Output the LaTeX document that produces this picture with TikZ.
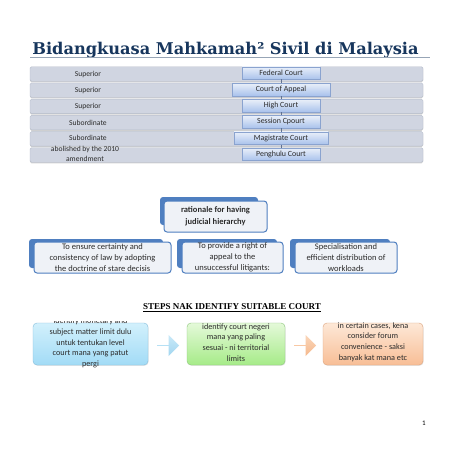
\documentclass[tikz,border=0pt]{standalone}
\usepackage{fontspec}
\setmainfont{Carlito}
\newfontfamily\titlefont{DejaVu Serif}
\newfontfamily\stepsfont{Liberation Serif}
\usetikzlibrary{shapes.arrows,backgrounds,shadows}
\definecolor{navy}{HTML}{17365D}
\definecolor{rowfill}{HTML}{D0D5E1}
\definecolor{rowline}{HTML}{B5BCCA}
\definecolor{courttop}{HTML}{E9EFF9}
\definecolor{courtbot}{HTML}{A9C2EC}
\definecolor{courtline}{HTML}{8AA3CF}
\definecolor{hblue}{HTML}{4F7FC0}
\definecolor{hfront}{HTML}{EFF2F7}
\definecolor{txt}{HTML}{2B2B2B}
\definecolor{s1top}{HTML}{D2F0FC}
\definecolor{s1bot}{HTML}{A2DBF6}
\definecolor{s1line}{HTML}{86BEDD}
\definecolor{s2top}{HTML}{E4F9D9}
\definecolor{s2bot}{HTML}{A6EB88}
\definecolor{s2line}{HTML}{8EC67E}
\definecolor{s3top}{HTML}{FDE8D7}
\definecolor{s3bot}{HTML}{F8BE96}
\definecolor{s3line}{HTML}{DDA47E}
\definecolor{a1top}{HTML}{C9E9F8}
\definecolor{a1bot}{HTML}{A2D6F0}
\definecolor{a2top}{HTML}{FAD6BA}
\definecolor{a2bot}{HTML}{F5B88C}
\tikzset{
  rowbox/.style={draw=rowline, fill=rowfill, rounded corners=1.5pt, minimum width=393pt, minimum height=14.5pt, inner sep=0pt,
    drop shadow={shadow xshift=0pt, shadow yshift=-1pt, opacity=0.35}},
  rowtxt/.style={font=\fontsize{7.6}{9}\selectfont, text=txt, inner sep=0pt, align=center},
  court/.style={draw=courtline, top color=courttop, bottom color=courtbot, minimum height=12.5pt, inner sep=0pt,
    font=\fontsize{7.9}{9}\selectfont, text=txt, drop shadow={shadow xshift=0.6pt, shadow yshift=-0.8pt, opacity=0.3}},
  hback/.style={fill=hblue, rounded corners=3pt, inner sep=0pt},
  hfrontbox/.style={draw=hblue, line width=1pt, fill=hfront, rounded corners=3pt, inner sep=0pt, align=center,
    font=\fontsize{8.5}{11}\selectfont, text=txt},
  conn/.style={draw=hblue!80!gray, line width=0.9pt},
  stepbox/.style={rounded corners=4pt, minimum width=#1, minimum height=42pt, inner sep=0pt, align=center,
    drop shadow={shadow xshift=0.6pt, shadow yshift=-0.8pt, opacity=0.2}},
  steptxt/.style={font=\fontsize{8.2}{10.7}\selectfont, text=txt, align=center, inner sep=0pt},
  blockarrow/.style={single arrow, single arrow head extend=5pt, minimum width=21pt, minimum height=22pt, inner sep=0pt},
}
\begin{document}
\begin{tikzpicture}[x=1pt,y=-1pt]
\useasboundingbox[fill=white] (0,0) rectangle (453,453);
% title
\node[font=\titlefont\bfseries\fontsize{16.2}{18}\selectfont, text=navy, anchor=base, inner sep=0pt] (title) at (225.5,54) {Bidangkuasa Mahkamah² Sivil di Malaysia};
\coordinate (ulL) at (30,57.5);
\coordinate (ulR) at (430,57.5);
\draw[draw=navy!45!white, line width=0.8pt] (ulL) -- (ulR);
% rows
\foreach \i/\y in {1/74,2/90.2,3/106.4,4/122.6,5/138.8,6/155}{
  \node[rowbox] (r\i) at (226.5,\y) {};
}
\node[rowtxt] (t1) at (88,74) {Superior};
\node[rowtxt] (t2) at (88,90.2) {Superior};
\node[rowtxt] (t3) at (88,106.4) {Superior};
\node[rowtxt] (t4) at (88,122.6) {Subordinate};
\node[rowtxt] (t5) at (88,137.5) {Subordinate};
\node[rowtxt, font=\fontsize{7.6}{10}\selectfont] (t6) at (85,154) {abolished by the 2010\\amendment};
% courts
\node[court, minimum width=78pt] (fc) at (281,73) {Federal Court};
\node[court, minimum width=98pt] (ca) at (281,89.5) {Court of Appeal};
\node[court, minimum width=78pt] (hc) at (281,105.7) {High Court};
\node[court, minimum width=78pt] (sc) at (281,121.9) {Session Cpourt};
\node[court, minimum width=94pt] (mc) at (281,138.1) {Magistrate Court};
\node[court, minimum width=78pt] (pc) at (281,154.3) {Penghulu Court};
\foreach \a/\b in {fc/ca,ca/hc,hc/sc,sc/mc,mc/pc}{
  \draw[draw=courtline!70!black, line width=0.6pt] (\a.south) -- (\b.north);
}
% hierarchy
\node[hback, minimum width=98pt, minimum height=28pt] (rb) at (209,211) {};
\node[hback, minimum width=134pt, minimum height=29pt] (c1b) at (96,253.5) {};
\node[hback, minimum width=100pt, minimum height=29pt] (c2b) at (227,253.5) {};
\node[hback, minimum width=100pt, minimum height=29pt] (c3b) at (340,253.5) {};
\coordinate (bus) at (209,234);
\begin{scope}[on background layer]
\draw[conn] (rb.south) -- (bus);
\draw[conn] (c1b.north) |- (bus) -| (c3b.north);
\draw[conn] (c2b.north) -- (c2b.north |- bus);
\end{scope}
\node[hfrontbox, minimum width=103pt, minimum height=31pt, font=\bfseries\fontsize{8.5}{12}\selectfont] (rf) at (215.5,216.5) {rationale for having\\judicial hierarchy};
\node[hfrontbox, minimum width=137pt, minimum height=31pt] (c1f) at (102.5,257.5) {To ensure certainty and\\consistency of law by adopting\\the doctrine of stare decisis};
\node[hfrontbox, minimum width=101pt, minimum height=31pt] (c2f) at (232.5,257.5) {To provide a right of\\appeal to the\\unsuccessful litigants:};
\node[hfrontbox, minimum width=102pt, minimum height=31pt] (c3f) at (346,257.5) {Specialisation and\\efficient distribution of\\workloads};
% steps
\node[font=\stepsfont\bfseries\fontsize{9}{11}\selectfont, inner sep=0pt] (stitle) at (232,308) {\underline{STEPS NAK IDENTIFY SUITABLE COURT}};
\begin{scope}
\clip (0,321) rectangle (453,453);
\node[stepbox=115pt, draw=s1line, top color=s1top, bottom color=s1bot] (s1) at (90.5,344) {};
\node[steptxt] (s1t) at (90.5,343) {identify monetary and\\subject matter limit dulu\\untuk tentukan level\\court mana yang patut\\pergi};
\node[stepbox=98pt, draw=s2line, top color=s2top, bottom color=s2bot] (s2) at (236,344) {};
\node[steptxt] (s2t) at (236,342.5) {identify court negeri\\mana yang paling\\sesuai - ni territorial\\limits};
\node[stepbox=100pt, draw=s3line, top color=s3top, bottom color=s3bot] (s3) at (373,344) {};
\node[steptxt] (s3t) at (373,342) {in certain cases, kena\\consider forum\\convenience - saksi\\banyak kat mana etc};
\end{scope}
\node[blockarrow, top color=a1top, bottom color=a1bot] (a1) at (168,345.5) {};
\node[blockarrow, top color=a2top, bottom color=a2bot] (a2) at (305,345.5) {};
% page number
\node[font=\fontsize{7}{8}\selectfont, inner sep=0pt] (pg) at (424,423) {1};
\end{tikzpicture}
\end{document}
